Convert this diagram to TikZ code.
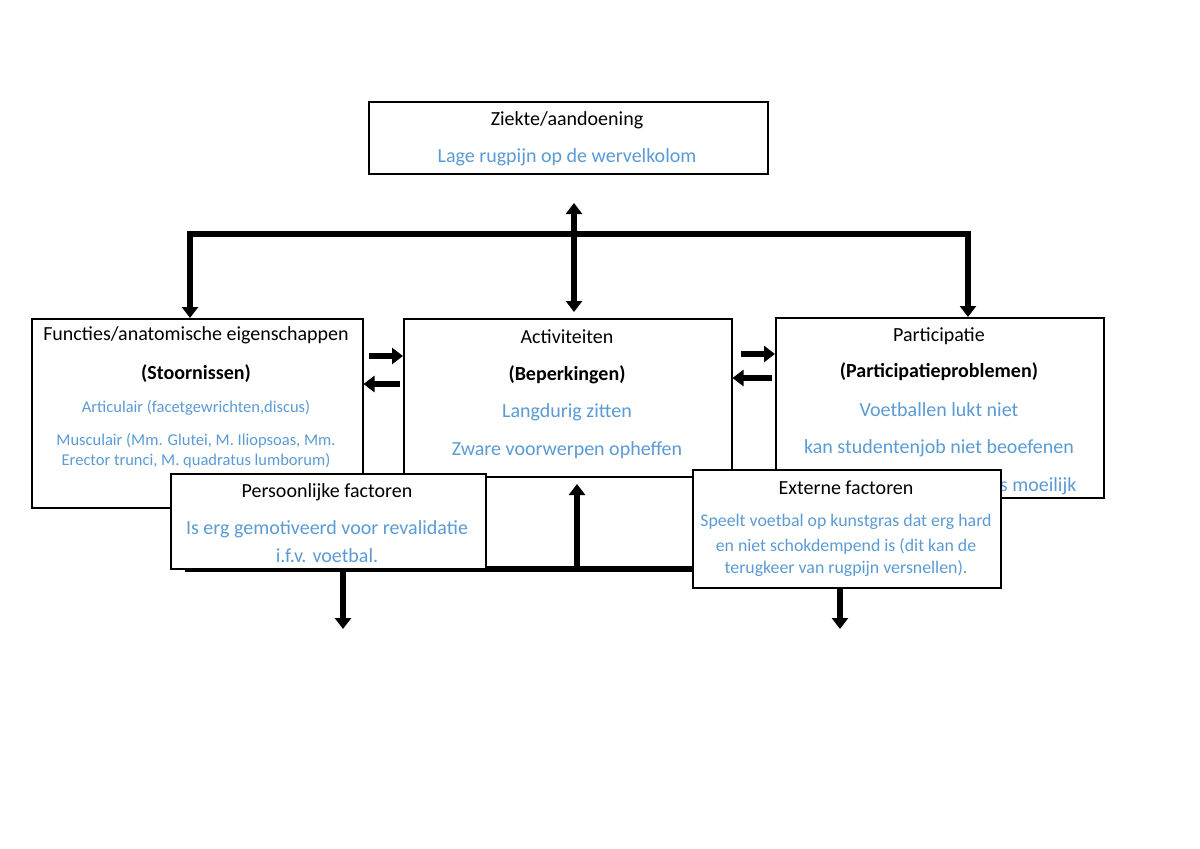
\documentclass[tikz,border=0pt]{standalone}
\usepackage{fontspec}
\setmainfont{Carlito}
\usetikzlibrary{arrows.meta}
\definecolor{tb}{HTML}{5B9BD5}
\begin{document}
\begin{tikzpicture}[x=1pt,y=-1pt,
 box/.style={draw,line width=1.5pt,fill=white},
 thick/.style={line width=6pt},
 arr/.style={line width=6pt,-{Triangle[length=11pt,width=16pt]}},
 darr/.style={line width=6pt,{Triangle[length=11pt,width=16pt]}-{Triangle[length=11pt,width=16pt]}},
 t/.style={font=\fontsize{20}{22}\selectfont,anchor=center},
 tb/.style={font=\fontsize{20}{22}\selectfont\bfseries,anchor=center},
 b/.style={t,text=tb},
 s/.style={font=\fontsize{16.5}{18}\selectfont,text=tb,anchor=center},
 e/.style={font=\fontsize{17.8}{20}\selectfont,text=tb,anchor=center}]
\useasboundingbox (0,0) rectangle (1200,849);
% top bus
\coordinate (bl) at (187,234); \coordinate (br) at (971,234);
\draw[thick] (bl) -- (br);
\coordinate (a1s) at (190,231); \coordinate (a1e) at (190,318);
\coordinate (a2s) at (968,231); \coordinate (a2e) at (968,317);
\draw[arr] (a1s) -- (a1e);
\draw[arr] (a2s) -- (a2e);
\coordinate (cs) at (574,203); \coordinate (ce) at (574,312);
\draw[darr] (cs) -- (ce);
% top box
\node[box,minimum width=399pt,minimum height=72pt,anchor=north west] (top) at (368,101) {};
\node[t] (top1) at (567,120) {Ziekte/aandoening};
\node[b] (top2) at (567,157) {Lage rugpijn op de wervelkolom};
% functies
\node[box,minimum width=331pt,minimum height=189pt,anchor=north west] (fun) at (31,318) {};
\node[t] (f1) at (196,335) {Functies/anatomische eigenschappen};
\node[tb] (f2) at (196,374) {(Stoornissen)};
\node[s] (f3) at (196,408) {Articulair (facetgewrichten,discus)};
\node[s] (f4) at (196,441) {Musculair (Mm. Glutei, M. Iliopsoas, Mm.};
\node[s] (f5) at (196,461) {Erector trunci, M. quadratus lumborum)};
% bottom bus
\draw[thick] (185,569) -- (692,569);
\coordinate (u1s) at (577,572); \coordinate (u1e) at (577,484);
\draw[arr] (u1s) -- (u1e);
\coordinate (d1s) at (343,566); \coordinate (d1e) at (343,629);
\draw[arr] (d1s) -- (d1e);
% activiteiten
\node[box,minimum width=328pt,minimum height=158pt,anchor=north west] (act) at (403,318) {};
\node[t] (a1) at (567,337) {Activiteiten};
\node[tb] (a2) at (567,375) {(Beperkingen)};
\node[b] (a3) at (567,412) {Langdurig zitten};
\node[b] (a4) at (567,450) {Zware voorwerpen opheffen};
% participatie
\node[box,minimum width=328pt,minimum height=180pt,anchor=north west] (par) at (775,317) {};
\node[t] (p1) at (939,336) {Participatie};
\node[tb] (p2) at (939,372) {(Participatieproblemen)};
\node[b] (p3) at (939,410) {Voetballen lukt niet};
\node[b] (p4) at (939,448) {kan studentenjob niet beoefenen};
\node[b,anchor=east] (p5) at (1080,486) {Sporten is moeilijk};
% side arrows
\draw[arr] (fun.east |- 0,356) ++(5,0) coordinate (l1s) -- (act.west |- 0,356);
\draw[arr] (act.west |- 0,384) ++(-3,0) coordinate (l2s) -- (fun.east |- 0,384);
\draw[arr] (act.east |- 0,354) ++(8,0) coordinate (r1s) -- (par.west |- 0,354);
\draw[arr] (par.west |- 0,378) ++(-3,0) coordinate (r2s) -- (act.east |- 0,378);
% persoonlijke
\node[box,minimum width=315pt,minimum height=95pt,anchor=north west] (per) at (170,473) {};
\node[t] (pe1) at (327,492) {Persoonlijke factoren};
\node[b] (pe2) at (327,529) {Is erg gemotiveerd voor revalidatie};
\node[b] (pe3) at (327,556) {i.f.v. voetbal.};
% externe
\coordinate (d2s) at (840,585); \coordinate (d2e) at (840,629);
\draw[arr] (d2s) -- (d2e);
\node[box,minimum width=308pt,minimum height=118pt,anchor=north west] (ext) at (692,469) {};
\node[t] (e1) at (846,488) {Externe factoren};
\node[e] (e2) at (846,522) {Speelt voetbal op kunstgras dat erg hard};
\node[e] (e3) at (846,546) {en niet schokdempend is (dit kan de};
\node[e] (e4) at (846,569) {terugkeer van rugpijn versnellen).};
\end{tikzpicture}
\end{document}
